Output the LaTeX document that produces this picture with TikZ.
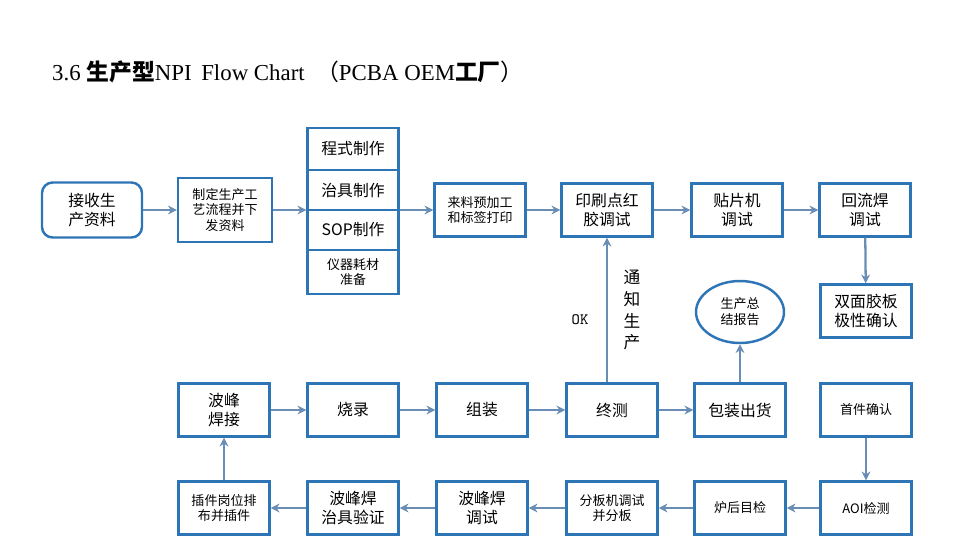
\documentclass[tikz,border=0pt]{standalone}
\usepackage{fontspec}
\setmainfont{Liberation Serif}
\newfontfamily\cjk{Noto Sans CJK SC}
\usetikzlibrary{shapes.geometric,arrows.meta}
\definecolor{boxblue}{HTML}{2E75B6}
\definecolor{arrowblue}{HTML}{6A8DB5}
\tikzset{
  box/.style={draw=boxblue, line width=1.4pt, minimum width=1.82cm, minimum height=1.06cm,
    align=center, font=\cjk\fontsize{9}{10.5}\selectfont, inner sep=1pt},
  small/.style={font=\cjk\fontsize{7.4}{9}\selectfont},
  flow/.style={->, >={Stealth[length=5pt,width=5pt]}, draw=arrowblue, line width=1.3pt}
}
\begin{document}
\begin{tikzpicture}[x=0.02cm, y=-0.02cm]
    \useasboundingbox (0,0) rectangle (960,552);
    \node[anchor=west, font=\fontsize{13}{15}\selectfont] (title) at (46,72)
        {3.6 {\cjk\bfseries 生产型}NPI\, Flow Chart \ {\cjk （}PCBA OEM{\cjk\bfseries 工厂}{\cjk ）}};

    % top row
    \node[box, rounded corners=6pt, minimum width=2cm, minimum height=1.1cm] (recv) at (92,210) {接收生\\产资料};
    \node[box, small, minimum width=1.88cm, minimum height=1.28cm] (plan) at (225,210) {制定生产工\\艺流程并下\\发资料};
    \node[box, minimum height=0.84cm] (prog) at (353,149) {程式制作};
    \node[box, minimum height=0.8cm] (fix) at (353,190) {治具制作};
    \node[box, minimum height=0.8cm] (sop) at (353,230) {SOP制作};
    \node[box, small, minimum height=0.88cm] (inst) at (353,272) {仪器耗材\\准备};
    \node[box, small] (pre) at (480,210) {来料预加工\\和标签打印};
    \node[box] (print) at (607,210) {印刷点红\\胶调试};
    \node[box] (smt) at (737,210) {贴片机\\调试};
    \node[box] (reflow) at (865,210) {回流焊\\调试};

    % right column
    \node[box] (pol) at (866,311) {双面胶板\\极性确认};
    \node[box, small] (first) at (866,410) {首件确认};
    \node[box, small] (aoi) at (866,508) {AOI检测};

    % bottom row
    \node[box, small] (visual) at (740,508) {炉后目检};
    \node[box, small] (split) at (612,508) {分板机调试\\并分板};
    \node[box] (wdebug) at (482,508) {波峰焊\\调试};
    \node[box] (wfix) at (353,508) {波峰焊\\治具验证};
    \node[box, small] (insert) at (224,508) {插件岗位排\\布并插件};

    % middle row
    \node[box] (wave) at (224,410) {波峰\\焊接};
    \node[box] (burn) at (353,410) {烧录};
    \node[box] (asm) at (482,410) {组装};
    \node[box] (test) at (612,410) {终测};
    \node[box] (pack) at (740,410) {包装出货};
    \node[ellipse, draw=boxblue, line width=1.4pt, minimum width=1.76cm, minimum height=1.24cm,
        align=center, font=\cjk\fontsize{7.4}{9}\selectfont, inner sep=0pt] (report) at (740,312) {生产总\\结报告};

    \draw[flow] (recv) -- (plan);
    \draw[flow] (plan) -- (plan -| sop.west);
    \draw[flow] (sop.east |- pre) -- (pre);
    \draw[flow] (pre) -- (print);
    \draw[flow] (print) -- (smt);
    \draw[flow] (smt) -- (reflow);
    \draw[flow] (reflow) -- (pol);
    \draw[flow] (first) -- (aoi);
    \draw[flow] (aoi) -- (visual);
    \draw[flow] (visual) -- (split);
    \draw[flow] (split) -- (wdebug);
    \draw[flow] (wdebug) -- (wfix);
    \draw[flow] (wfix) -- (insert);
    \draw[flow] (insert) -- (wave);
    \draw[flow] (wave) -- (burn);
    \draw[flow] (burn) -- (asm);
    \draw[flow] (asm) -- (test);
    \draw[flow] (test) -- (pack);
    \draw[flow] (pack) -- (report);
    \draw[flow] (test.north -| print) -- (print);

    \node[font=\ttfamily\fontsize{9}{10}\selectfont] (ok) at (580,320) {OK};
    \node[align=center, font=\cjk\fontsize{9.5}{12.5}\selectfont] (notify) at (632,310) {通\\知\\生\\产};
\end{tikzpicture}
\end{document}
